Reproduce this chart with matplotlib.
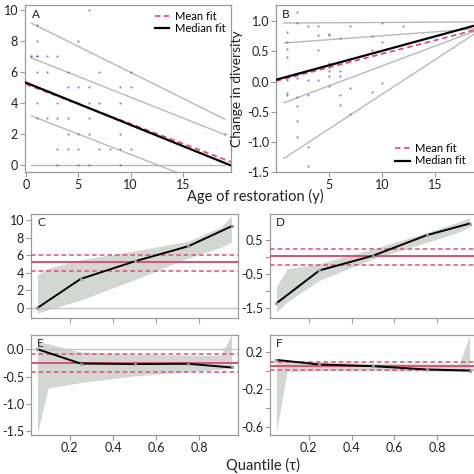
import matplotlib
matplotlib.use("Agg")
import matplotlib.pyplot as plt
import numpy as np

plt.rcParams['font.family'] = ['Lato', 'DejaVu Sans']

# ---------------- data ----------------
taus = [0.05, 0.25, 0.50, 0.75, 0.95]

# Panel A (richness) quantile fits
a_intercepts = [0.0, 3.30, 5.30, 7.03, 9.30]
a_slopes = [0.0, -0.262, -0.272, -0.267, -0.334]
a_mean_fit = [5.20, -0.255]          # intercept, slope
a_mean_int_ci = [4.25, 6.05]
a_mean_slope_ci = [-0.41, -0.09]

a_age = [0.5, 1, 6, 1, 1, 5, 0.5, 1, 2, 3, 1, 2, 4, 7, 10, 4, 5, 6, 9, 10,
         1, 3, 5, 6, 7, 9, 1, 2, 3, 4, 6, 4, 5, 6, 9, 19, 3, 4, 5, 7, 8, 9, 10,
         3, 5, 6, 9]
a_val = [7, 9, 10, 8, 7, 8, 7, 7, 7, 7, 6, 6, 6, 6, 6, 5, 5, 5, 5, 5,
         4, 4, 4, 4, 4, 4, 3, 3, 3, 3, 3, 2, 2, 2, 2, 2, 1, 1, 1, 1, 1, 1, 1,
         0, 0, 0, 0]

# Panel B (diversity) quantile fits
b_intercepts = [-1.36, -0.40, 0.03, 0.63, 0.97]
b_slopes = [0.115, 0.066, 0.048, 0.013, 0.001]
b_mean_fit = [0.01, 0.045]
b_mean_int_ci = [-0.23, 0.24]
b_mean_slope_ci = [0.01, 0.095]

b_age = [2, 1, 2, 3, 4, 4, 5, 5, 6, 7, 9, 10, 12, 1, 1, 1, 4, 9, 10, 5, 5, 5,
         6, 7, 2, 1, 1, 3, 4, 5, 6, 1, 1, 2, 2, 3, 5, 6, 6, 7, 9, 10, 7, 2, 2,
         3, 3]
b_val = [1.15, 0.82, 0.97, 0.92, 0.92, 0.77, 0.79, 0.77, 0.72, 0.92, 0.75,
         0.97, 0.92, 0.65, 0.54, 0.41, 0.52, 0.52, 0.65, 0.30, 0.24, 0.17,
         0.17, 0.35, 0.06, 0.06, 0.02, 0.02, 0.03, 0.09, 0.09, -0.19, -0.22,
         -0.26, -0.40, -0.22, -0.07, -0.23, -0.39, -0.10, -0.18, -0.02, -0.54,
         -0.66, -0.92, -1.09, -1.40]

# confidence bands for the quantile coefficients
band_taus = [0.05, 0.10, 0.25, 0.50, 0.75, 0.90, 0.95]
c_lo = [-0.6, -0.2, 0.9, 3.2, 5.7, 6.9, 7.5]
c_hi = [3.8, 4.5, 5.5, 6.5, 7.6, 9.2, 10.5]
d_lo = [-1.62, -1.32, -0.69, -0.06, 0.42, 0.72, 0.86]
d_hi = [-0.88, -0.35, -0.20, 0.23, 0.71, 1.02, 1.15]
e_lo = [-1.54, -0.71, -0.61, -0.49, -0.41, -0.37, -0.35]
e_hi = [0.13, 0.10, -0.05, -0.09, -0.11, -0.11, 0.27]
f_lo = [-0.65, -0.01, 0.0, 0.0, -0.005, -0.01, -0.01]
f_hi = [0.13, 0.09, 0.095, 0.08, 0.07, 0.07, 0.37]

# ---------------- style ----------------
GRAY_LINE = '#b9b9b9'
RED = '#e0506e'
BAND = '#d3d7d3'
SPINE = '#9a9a9a'
PT = '#5a5aa8'
TXT = '#222222'

fig = plt.figure(figsize=(4.74, 4.74), dpi=100)
W = H = 474.0


def add_ax(left, right, top, bottom):
    return fig.add_axes([left / W, 1 - bottom / H, (right - left) / W, (bottom - top) / H])


def style(ax):
    for s in ax.spines.values():
        s.set_color(SPINE)
        s.set_linewidth(0.9)
    ax.tick_params(colors=SPINE, labelcolor=TXT, labelsize=9, length=3.5, width=0.8, direction='out', pad=1.5)


axA = add_ax(25, 231, 5, 172)
axB = add_ax(276, 484, 5, 172)
axC = add_ax(31, 238, 214, 318)
axD = add_ax(270, 476, 214, 318)
axE = add_ax(31, 238, 335, 435)
axF = add_ax(270, 476, 335, 435)

for ax in (axA, axB, axC, axD, axE, axF):
    style(ax)

mi = taus.index(0.5)

# ---- Panel A ----
xs = np.array([0.5, 19.0])
for k, (b0, b1) in enumerate(zip(a_intercepts, a_slopes)):
    if k == mi:
        continue
    axA.plot(xs, b0 + b1 * xs, color=GRAY_LINE, lw=1.0, zorder=1)
axA.scatter(a_age, a_val, s=2.5, color=PT, alpha=0.7, lw=0, zorder=3)
xf = np.array([0.0, 19.6])
axA.plot(xf, a_mean_fit[0] + a_mean_fit[1] * xf, color=RED, lw=1.3, ls=(0, (3, 2)), zorder=4, label='Mean fit')
axA.plot(xf, a_intercepts[mi] + a_slopes[mi] * xf, color='black', lw=1.6, zorder=5, label='Median fit')
axA.set_xlim(-0.1, 19.6)
axA.set_ylim(-0.45, 10.3)
axA.set_xticks([0, 5, 10, 15])
axA.set_yticks([0, 2, 4, 6, 8, 10])
axA.legend(loc='upper right', frameon=False, fontsize=8, handlelength=1.3,
           handletextpad=0.5, borderaxespad=0.1, labelspacing=0.1)
axA.text(0.035, 0.975, 'A', transform=axA.transAxes, ha='left', va='top', fontsize=8.5, color=TXT)

# ---- Panel B ----
xs = np.array([0.75, 19.6])
for k, (b0, b1) in enumerate(zip(b_intercepts, b_slopes)):
    if k == mi:
        continue
    axB.plot(xs, b0 + b1 * xs, color=GRAY_LINE, lw=1.0, zorder=1)
axB.scatter(b_age, b_val, s=2.5, color=PT, alpha=0.7, lw=0, zorder=3)
xf = np.array([0.0, 19.6])
axB.plot(xf, b_mean_fit[0] + b_mean_fit[1] * xf, color=RED, lw=1.3, ls=(0, (3, 2)), zorder=4, label='Mean fit')
axB.plot(xf, b_intercepts[mi] + b_slopes[mi] * xf, color='black', lw=1.6, zorder=5, label='Median fit')
axB.set_xlim(0, 19.6)
axB.set_ylim(-1.5, 1.27)
axB.set_xticks([5, 10, 15])
axB.set_yticks([-1.5, -1.0, -0.5, 0.0, 0.5, 1.0])
axB.set_yticklabels(['-1.5', '-1.0', '-0.5', '0.0', '0.5', '1.0'])
axB.legend(loc='lower right', frameon=False, fontsize=8, handlelength=1.3,
           handletextpad=0.5, borderaxespad=0.1, labelspacing=0.1, bbox_to_anchor=(0.94, 0.0))
axB.text(0.03, 0.975, 'B', transform=axB.transAxes, ha='left', va='top', fontsize=8.5, color=TXT)
axB.set_ylabel('Change in diversity', fontsize=10, color=TXT)
axB.yaxis.set_label_coords(-0.16, 0.5)

fig.text(255 / W, 1 - 196 / H, 'Age of restoration (y)', ha='center', va='center', fontsize=10.5, color=TXT)


# ---- coefficient panels ----
def coef_panel(ax, coefs, lo, hi, mean, ci, letter, zero_line):
    ax.fill_between(band_taus, lo, hi, color=BAND, lw=0, zorder=1)
    if zero_line:
        ax.axhline(0, color='#c4c4c4', lw=1.0, zorder=2)
    ax.axhline(mean, color=RED, lw=1.4, zorder=3)
    for c in ci:
        ax.axhline(c, color=RED, lw=1.1, ls=(0, (3, 2)), zorder=3)
    ax.plot(taus, coefs, color='black', lw=1.4, zorder=4)
    ax.plot(taus, coefs, ls='none', marker='o', ms=1.3, color='#9a9a9a', zorder=5)
    ax.set_xlim(0.02, 0.98)
    ax.set_xticks([0.2, 0.4, 0.6, 0.8])
    ax.text(0.03, 0.97, letter, transform=ax.transAxes, ha='left', va='top', fontsize=8.5, color=TXT)


coef_panel(axC, a_intercepts, c_lo, c_hi, a_mean_fit[0], a_mean_int_ci, 'C', True)
axC.set_ylim(-1.15, 10.7)
axC.set_yticks([0, 2, 4, 6, 8, 10])
axC.set_xticklabels([])
axC.set_ylabel('Intercept (β₀)', fontsize=10, color=TXT)
axC.yaxis.set_label_coords(-0.165, 0.55)

coef_panel(axD, b_intercepts, d_lo, d_hi, b_mean_fit[0], b_mean_int_ci, 'D', False)
axD.set_ylim(-1.79, 1.25)
axD.set_yticks([-1.5, -1.0, -0.5, 0.0, 0.5])
axD.set_yticklabels(['-1.5', '', '-0.5', '', '0.5'])
axD.set_xticklabels([])

coef_panel(axE, a_slopes, e_lo, e_hi, a_mean_fit[1], a_mean_slope_ci, 'E', True)
axE.set_ylim(-1.57, 0.26)
axE.set_yticks([-1.5, -1.0, -0.5, 0.0])
axE.set_yticklabels(['-1.5', '-1.0', '-0.5', '0.0'])
axE.set_xticklabels(['0.2', '0.4', '0.6', '0.8'])
axE.set_ylabel('Slope (β₁)', fontsize=10, color=TXT)
axE.yaxis.set_label_coords(-0.165, 0.4)

coef_panel(axF, b_slopes, f_lo, f_hi, b_mean_fit[1], b_mean_slope_ci, 'F', False)
axF.set_ylim(-0.685, 0.38)
axF.set_yticks([-0.6, -0.4, -0.2, 0.0, 0.2])
axF.set_yticklabels(['-0.6', '', '-0.2', '', '0.2'])
axF.set_xticklabels(['0.2', '0.4', '0.6', '0.8'])

fig.text(263 / W, 1 - 465 / H, 'Quantile (τ)', ha='center', va='center', fontsize=10.5, color=TXT)

fig.savefig('out.png', dpi=100, facecolor='white')
